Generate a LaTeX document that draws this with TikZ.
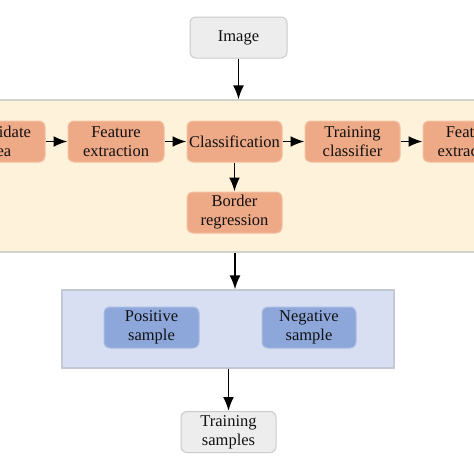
\documentclass[tikz,border=0pt]{standalone}
\usepackage{fontspec}
\setmainfont{Liberation Serif}
\usetikzlibrary{arrows.meta}
\definecolor{bandY}{HTML}{FEF3DA}
\definecolor{bandYb}{HTML}{D2D0CC}
\definecolor{boxO}{HTML}{EEA987}
\definecolor{boxOb}{HTML}{F2C0A2}
\definecolor{bandB}{HTML}{D9DFF2}
\definecolor{bandBb}{HTML}{C4C8D4}
\definecolor{boxB}{HTML}{8EA7DB}
\definecolor{boxBb}{HTML}{A9BCE4}
\definecolor{boxG}{HTML}{EDEDED}
\definecolor{boxGb}{HTML}{CBCBCB}
\definecolor{txt}{HTML}{111111}
\tikzset{
  base/.style={rounded corners=6pt, minimum height=41pt, minimum width=95pt, align=center, text=txt, font=\fontsize{16.5}{19}\selectfont, inner sep=1pt, line width=1pt},
  obox/.style={base, fill=boxO, draw=boxOb},
  bbox/.style={base, fill=boxB, draw=boxBb},
  gbox/.style={base, fill=boxG, draw=boxGb},
  arr/.style={-{Latex[length=14pt,width=11pt]}, line width=1.9pt, black},
}
\begin{document}
\begin{tikzpicture}[x=1pt,y=-1pt]
\useasboundingbox (0,0) rectangle (474,474);
\clip (0,0) rectangle (474,474);
\fill[white] (0,0) rectangle (474,474);
% bands
\node[fill=bandY, draw=bandYb, line width=1.2pt, minimum width=490pt, minimum height=152pt, inner sep=0pt] (yband) at (237,176) {};
\node[fill=bandB, draw=bandBb, line width=1.2pt, minimum width=332pt, minimum height=78pt, inner sep=0pt] (bband) at (228,329) {};
% top
\node[gbox, minimum width=97pt] (img) at (238.5,37.5) {Image};
% row
\node[obox] (cand) at (-2.5,141.5) {Candidate\\area};
\node[obox, minimum width=96pt] (fe1) at (116,141.5) {Feature\\extraction};
\node[obox] (cls) at (234.5,141.5) {Classification};
\node[obox] (tc) at (352.5,141.5) {Training\\classifier};
\node[obox] (fe2) at (470.5,141.5) {Feature\\extraction};
\node[obox] (br) at (234.5,212.5) {Border\\regression};
% samples
\node[bbox] (pos) at (151.5,327.5) {Positive\\sample};
\node[bbox, minimum width=94pt] (neg) at (309,327.5) {Negative\\sample};
\node[gbox] (ts) at (228.5,432) {Training\\samples};
% arrows
\draw[arr] (img.south) -- (img.south |- yband.north);
\draw[arr] (cand.east) -- (fe1.west);
\draw[arr] (fe1.east) -- (cls.west);
\draw[arr] (cls.east) -- (tc.west);
\draw[arr] (tc.east) -- (fe2.west);
\draw[arr] (cls.south) -- (br.north);
\coordinate (ya) at (235,0);
\draw[arr] (ya |- yband.south) -- (ya |- bband.north);
\draw[arr] (bband.south -| ts.north) -- (ts.north);
\end{tikzpicture}
\end{document}
